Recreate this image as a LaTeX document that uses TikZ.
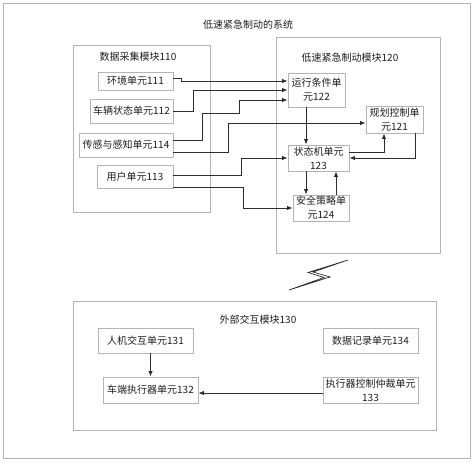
\documentclass[tikz,border=0pt]{standalone}
\usepackage{fontspec}
\setmainfont{Noto Sans CJK SC}
\usepackage{xcolor}
\usetikzlibrary{arrows.meta}

\definecolor{frame}{RGB}{180,180,180}
\definecolor{wire}{RGB}{45,45,45}
\definecolor{ink}{RGB}{30,30,30}

\begin{document}
\begin{tikzpicture}[x=1pt,y=-1pt,
    font=\fontsize{10}{14}\selectfont, text=ink,
    module/.style={draw=frame,line width=0.9pt,inner sep=0pt},
    unit/.style={draw=frame,line width=0.9pt,inner sep=0pt,align=center},
    link/.style={draw=wire,line width=0.9pt,-{Latex[length=5.5pt,width=4.5pt]}}]
    \useasboundingbox (0,0) rectangle (474,462);
    % Outer frame = system
    \draw[frame,line width=0.9pt] (3,3) rectangle (470,458);
    \node (sys) at (248,25) {低速紧急制动的系统};
    % Modules
    \node[module,minimum width=137pt,minimum height=167pt] (m110) at (141.5,128.5) {};
    \node (t110) at (138,57) {数据采集模块110};
    \node[module,minimum width=164pt,minimum height=216pt] (m120) at (358,145) {};
    \node (t120) at (350,58) {低速紧急制动模块120};
    \node[module,minimum width=363pt,minimum height=129pt] (m130) at (254.5,365.5) {};
    \node (t130) at (258,320) {外部交互模块130};
    % Data acquisition units
    \node[unit,minimum width=75pt,minimum height=18pt] (u111) at (135.5,81) {环境单元111};
    \node[unit,minimum width=83pt,minimum height=24pt] (u112) at (131.5,111) {车辆状态单元112};
    \node[unit,minimum width=94pt,minimum height=24pt] (u114) at (126,145) {传感与感知单元114};
    \node[unit,minimum width=76pt,minimum height=23pt] (u113) at (135,176.5) {用户单元113};
    % Braking units
    \node[unit,minimum width=57pt,minimum height=34pt] (u122) at (316.5,90) {运行条件单\\元122};
    \node[unit,minimum width=57pt,minimum height=27pt] (u121) at (394.5,119.5) {规划控制单\\元121};
    \node[unit,minimum width=61pt,minimum height=26pt] (u123) at (318.5,158) {状态机单元\\123};
    \node[unit,minimum width=56pt,minimum height=26pt] (u124) at (321,208) {安全策略单\\元124};
    % Interaction units
    \node[unit,minimum width=95pt,minimum height=25pt] (u131) at (145.5,340.5) {人机交互单元131};
    \node[unit,minimum width=95pt,minimum height=25pt] (u134) at (370.5,340.5) {数据记录单元134};
    \node[unit,minimum width=95pt,minimum height=26pt] (u132) at (150.5,390) {车端执行器单元132};
    \node[unit,minimum width=95pt,minimum height=26pt] (u133) at (370.5,390) {执行器控制仲裁单元\\133};
    % Inputs into module 120
    \draw[link] (u111.east) ++(0,-3) -- ++(8,0) |- ([yshift=9pt]u122.west);
    \draw[link] (u112.east) -- (193,111) |- (u122.west);
    \draw[link] ([yshift=5pt]u114.east) -- (202,140) |- (239,113) |- ([yshift=-10pt]u122.west);
    \draw[link] ([yshift=-7pt]u114.east) -- (228,152) |- ([yshift=-3.5pt]u121.west);
    \draw[link] ([yshift=1.5pt]u113.east) -- (241,175) |- (u123.west);
    \draw[link] ([yshift=-10.5pt]u113.east) -- (243,187) |- (u124.west);
    % Inside module 120
    \draw[link] ([xshift=-10.5pt]u122.south) -- ([xshift=-12.5pt]u123.north);
    \draw[link] ([xshift=-12.5pt]u123.south) -- ([xshift=-15pt]u124.north);
    \draw[link] ([xshift=15pt]u124.north) -- ([xshift=17.5pt]u123.south);
    \draw[link] ([yshift=6pt]u123.east) -| ([xshift=-10.5pt]u121.south);
    \draw[link] ([xshift=20.5pt]u121.south) |- (u123.east);
    % Inside module 130
    \draw[link] (u132.north |- u131.south) -- (u132.north);
    \draw[link] ([yshift=-3pt]u133.west) -- ([yshift=-3pt]u132.east);
    % Wireless link
    \draw[draw=wire,line width=0.7pt,line join=miter] (348,260) -- (308,272.5) -- (324,277.5) -- (289,290)
        -- (330,277) -- (313,272) -- cycle;
\end{tikzpicture}
\end{document}
